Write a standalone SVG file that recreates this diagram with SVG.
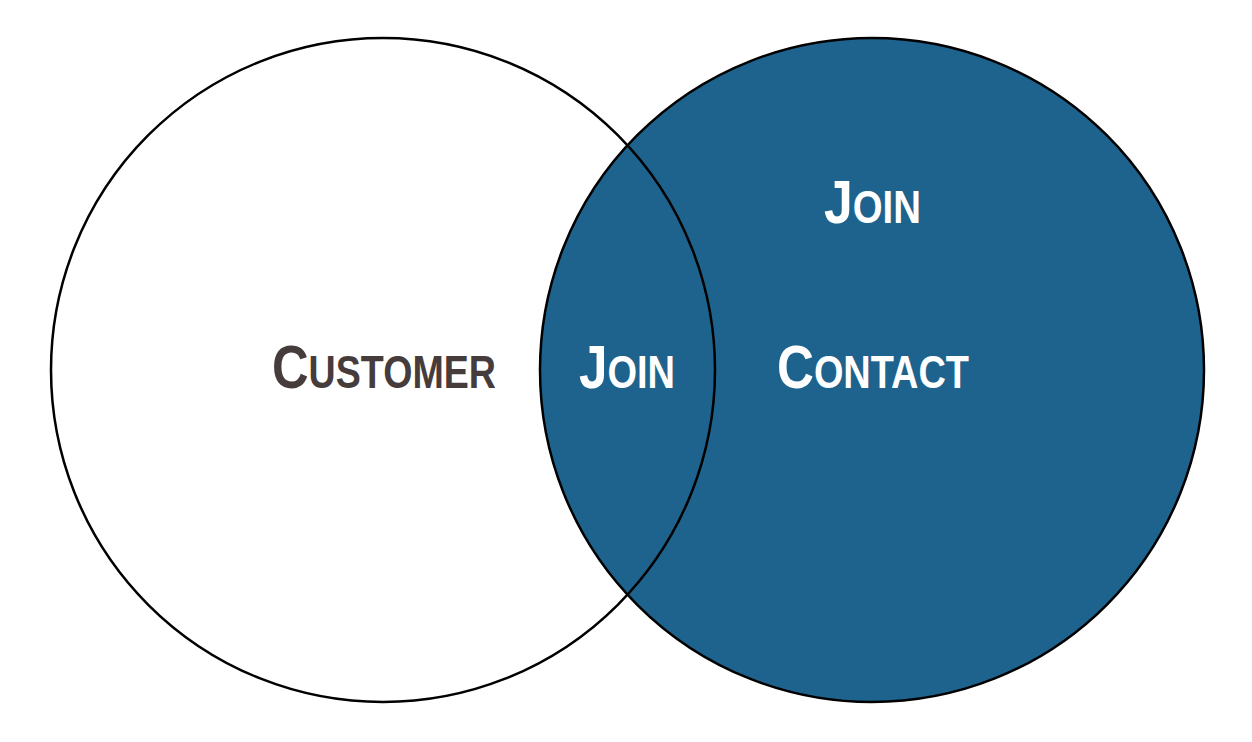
<svg xmlns="http://www.w3.org/2000/svg" width="1252" height="742" viewBox="0 0 1252 742">
<style>
.o{fill:none;stroke:#000;stroke-width:2.5}
.t{font-family:"Liberation Sans",Arial,sans-serif;font-weight:bold;font-size:46px}
.b{font-size:62px}
.w{fill:#fff}
.d{fill:#463c3c}
</style>
<rect width="1252" height="742" fill="#fff"/>
<g id="customer">
<circle cx="383" cy="370" r="332" fill="#fff"/>
</g>
<g id="contact">
<circle cx="872" cy="370" r="332" fill="#1e638d"/>
</g>
<g id="outlines">
<circle class="o" cx="383" cy="370" r="332"/>
<circle class="o" cx="872" cy="370" r="332"/>
</g>
<g id="labels">
<text class="t d" x="272" y="388" textLength="224" lengthAdjust="spacingAndGlyphs"><tspan class="b">C</tspan>USTOMER</text>
<text class="t w" x="579" y="388" textLength="96" lengthAdjust="spacingAndGlyphs"><tspan class="b">J</tspan>OIN</text>
<text class="t w" x="824" y="223" textLength="97" lengthAdjust="spacingAndGlyphs"><tspan class="b">J</tspan>OIN</text>
<text class="t w" x="777" y="388" textLength="192" lengthAdjust="spacingAndGlyphs"><tspan class="b">C</tspan>ONTACT</text>
</g>
</svg>
